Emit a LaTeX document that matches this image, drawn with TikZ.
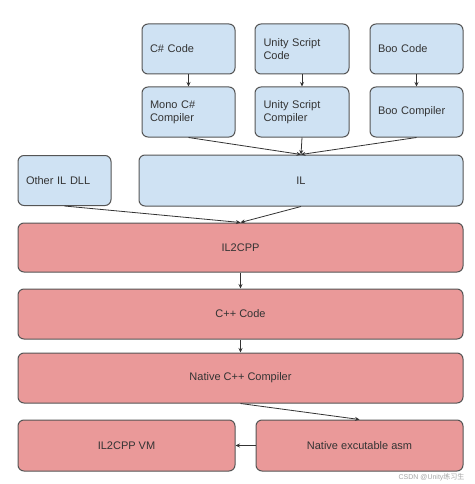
\documentclass[tikz,border=0pt]{standalone}
\usepackage{fontspec}
\setmainfont{Liberation Sans}
\newfontfamily\cjk{Noto Sans CJK SC}
\usetikzlibrary{arrows.meta}
\definecolor{srcblue}{HTML}{CFE2F3}
\definecolor{cppred}{HTML}{EA9999}
\definecolor{edgegray}{HTML}{555555}
\tikzset{
  box/.style={draw=edgegray, line width=1pt, rounded corners=6pt, inner sep=0pt, font=\fontsize{11}{13}\selectfont, text=black!80},
  srcbox/.style={box, fill=srcblue, minimum width=93pt, minimum height=50pt, text width=77pt, align=left},
  stagebox/.style={box, fill=cppred, minimum height=50pt, align=center},
  flow/.style={draw=black!80, line width=0.8pt, -{Stealth[length=4.5pt, width=4pt]}}
}
\begin{document}
\begin{tikzpicture}[x=1pt, y=-1pt]
  \useasboundingbox[fill=white] (0,0) rectangle (474,484);
  % source code
  \node[srcbox] (cs)   at (188.5,49) {C\# Code};
  \node[srcbox, minimum width=94pt] (us) at (302,49) {Unity Script\\Code};
  \node[srcbox] (boo)  at (416.5,49) {Boo Code};
  % compilers
  \node[srcbox] (monoc) at (188.5,112) {Mono C\#\\Compiler};
  \node[srcbox, minimum width=94pt] (usc) at (302,112) {Unity Script\\Compiler};
  \node[srcbox] (booc)  at (416.5,112) {Boo Compiler};
  % IL
  \node[srcbox] (dll) at (64.5,180.5) {Other IL DLL};
  \node[box, fill=srcblue, minimum width=324pt, minimum height=51pt] (il) at (301,180.5) {IL};
  % IL2CPP chain
  \node[stagebox, minimum width=445pt, minimum height=49pt] (il2cpp) at (240.5,247.5) {IL2CPP};
  \node[stagebox, minimum width=445pt] (cpp) at (240.5,314) {C++ Code};
  \node[stagebox, minimum width=445pt] (ncc) at (240.5,378) {Native C++ Compiler};
  \node[stagebox, minimum width=217pt, minimum height=51pt] (vm) at (126.5,445.5) {IL2CPP VM};
  \node[stagebox, minimum width=207pt, minimum height=51pt] (asm) at (359.5,445.5) {Native excutable asm};
  % arrows
  \draw[flow] (cs) -- (monoc);
  \draw[flow] (us) -- (usc);
  \draw[flow] (boo) -- (booc);
  \draw[flow] (monoc.south) -- (il.north);
  \draw[flow] (usc.south) -- (il.north);
  \draw[flow] (booc.south) -- (il.north);
  \draw[flow] (dll.south) -- (il2cpp.north);
  \draw[flow] (il.south) -- (il2cpp.north);
  \draw[flow] (il2cpp) -- (cpp);
  \draw[flow] (cpp) -- (ncc);
  \draw[flow] (ncc.south) -- (asm.north);
  \draw[flow] (asm) -- (vm);
  % watermark
  \node[text=black!35, font=\fontsize{7}{8}\selectfont, anchor=east] (mark) at (468,477) {CSDN @Unity{\cjk 练习生}};
\end{tikzpicture}
\end{document}
